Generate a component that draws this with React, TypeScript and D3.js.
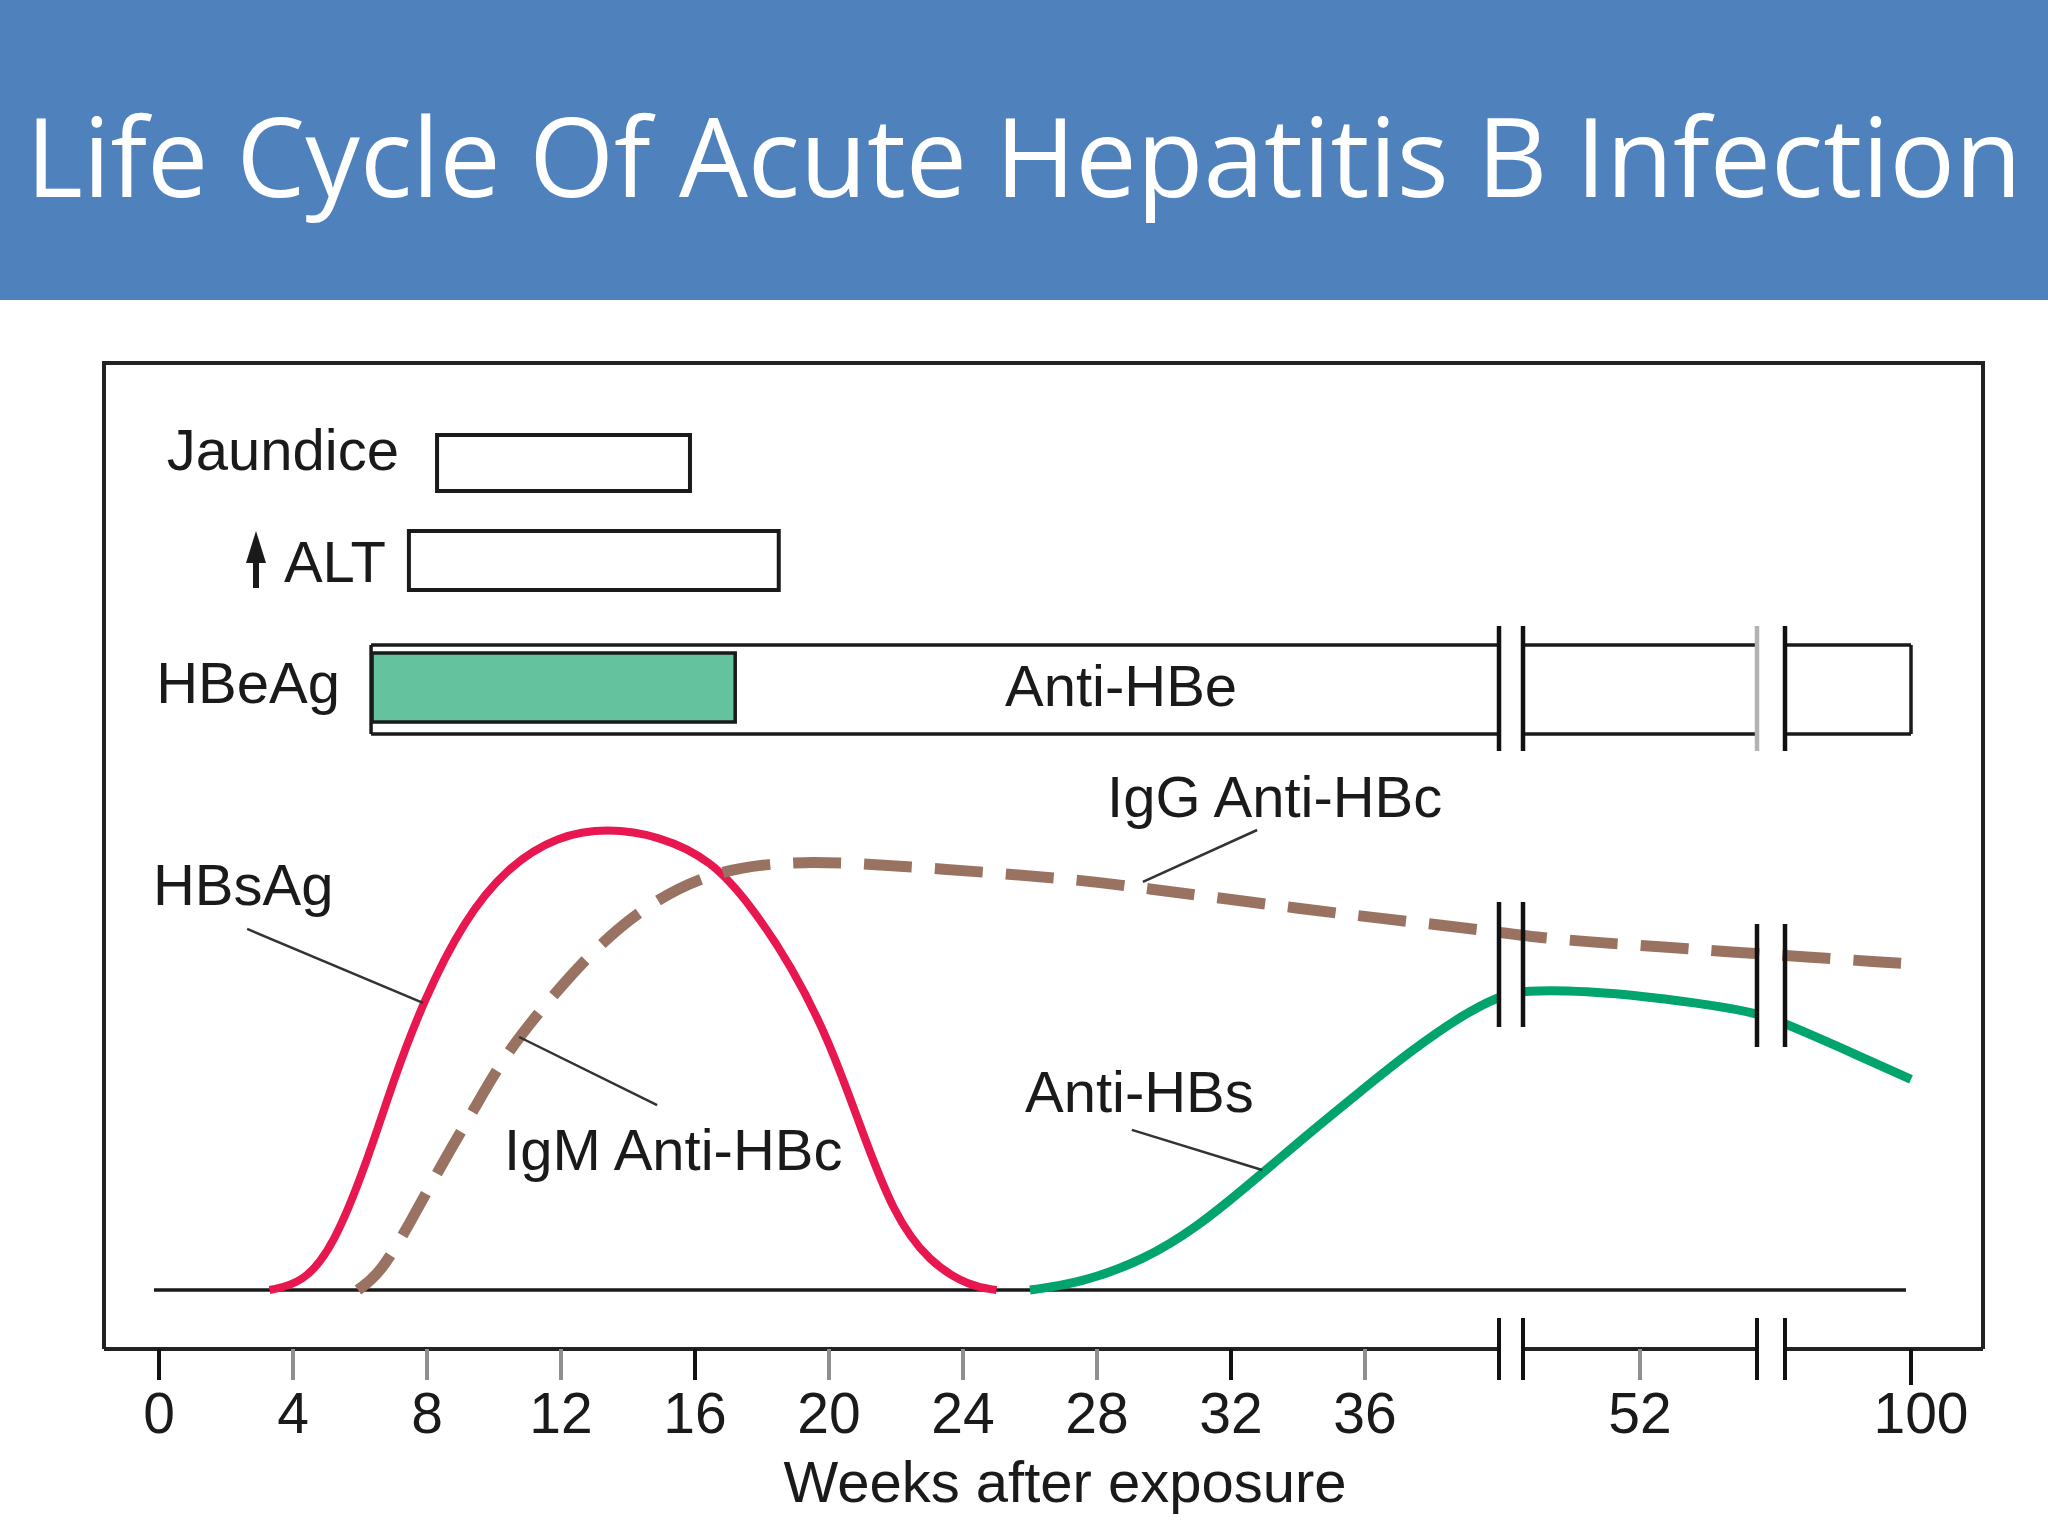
import React from 'react';
import * as d3 from 'd3';

const W = 2048;
const H = 1536;

// weeks after exposure
const weekTicks = [0, 4, 8, 12, 16, 20, 24, 28, 32, 36, 52, 100];
const darkTicks = [0, 16, 32, 100];
// axis breaks (start week, end week)
const axisBreaks: [number, number][] = [[40, 48], [56, 90]];

// curves: [week, relative level]
const hbsAg: [number, number][] = [
  [3.3, 0], [4.3, 1.5], [5.2, 9.3], [6.2, 27.6], [7.0, 45.7], [7.9, 63], [9.1, 80.4], [10.4, 92],
  [11.9, 98.8], [13.4, 100.4], [14.9, 98.8], [16.5, 93.5], [17.7, 83.3], [18.9, 70.2],
  [20.0, 54.3], [20.9, 36.3], [21.9, 16.7], [23.0, 5.9], [24.2, 0.8], [25.0, 0],
];
const antiHBc: [number, number][] = [
  [5.94, 0], [6.6, 3.5], [7.46, 14.1], [8.39, 26.7], [9.43, 39.6], [10.36, 51.5],
  [11.64, 63], [12.96, 73.9], [14.54, 83.7], [16.45, 90.9], [18.66, 93.2], [20.8, 92.8],
  [23.07, 91.7], [27.4, 89.3], [29.55, 87.2], [31.7, 85.2], [33.97, 83], [36.1, 81.1],
  [38.3, 79.3], [40, 77.8], [48, 77.0], [50.15, 75.7], [52.7, 74.6], [55.1, 73.5],
  [91.8, 72.4], [97.6, 71.3], [99.5, 71],
];
const antiHBs: [number, number][] = [
  [26, 0], [27.5, 1.5], [29.4, 6.5], [31, 13.7], [32.6, 23.3], [34.2, 33.3], [35.8, 42.8],
  [37.4, 52.2], [39, 60.2], [40, 63.8], [48, 65.2], [50.2, 65], [52.3, 63.7], [54.4, 62],
  [56, 60.2], [90, 58], [95.8, 51], [100, 45.8],
];

// top bars: [start week, end week]
const jaundice = [8.3, 15.85];
const altRise = [7.46, 18.5];
const hbeAg = [6.36, 17.2];
const antiHBe = [6.33, 100];

// annotation labels and their leader lines, in [week, level]
const labelNames = ['HBsAg', 'IgM Anti-HBc', 'IgG Anti-HBc', 'Anti-HBs'];
const labelAt: [number, number][] = [[-0.18, 83.7], [10.3, 26.1], [28.3, 102.8], [25.85, 38.7]];
const leaderFrom: [number, number][] = [[2.63, 78.5], [10.75, 55], [32.78, 100], [29.04, 34.8]];
const leaderTo: [number, number][] = [[7.88, 62.4], [14.87, 40.2], [29.37, 88.7], [32.93, 26.1]];

const x = d3.scaleLinear()
  .domain([0, 40, 48, 56, 90, 100])
  .range([159, 1499, 1523, 1757, 1785, 1911]);
const y = d3.scaleLinear().domain([0, 100]).range([1290, 830]);

const FONT = '"Liberation Sans", Arial, sans-serif';
const INK = '#1a1a1a';

const line = d3.line<[number, number]>()
  .x(d => x(d[0]))
  .y(d => y(d[1]))
  .curve(d3.curveBasis);

const box = { left: 104, right: 1983, top: 363, bottom: 1349 };

export default function App() {
  const b1 = axisBreaks.map(b => [x(b[0]), x(b[1])]);

  // bottom border of the frame, broken at the axis breaks
  const bottomSegs: [number, number][] = [
    [box.left, b1[0][0]], [b1[0][1], b1[1][0]], [b1[1][1], box.right],
  ];

  // HBeAg / anti-HBe bar
  const barTop = 645, barBot = 734;
  const barL = x(antiHBe[0]), barR = x(antiHBe[1]);
  const barSegs: [number, number][] = [
    [barL, b1[0][0]], [b1[0][1], b1[1][0]], [b1[1][1], barR],
  ];

  // curve break marks vertical extents
  const curveBreakY = [[902, 1027], [924, 1047]];

  return (
    <svg width={W} height={H} style={{ position: 'absolute', left: 0, top: 0, background: '#fff' }}>
      <rect x={0} y={0} width={W} height={H} fill="#fff" />
      {/* title banner */}
      <rect x={0} y={0} width={W} height={300} fill="#4F81BD" />
      <text x={1024} y={197} fill="#fff" fontFamily='"Open Sans", sans-serif' fontSize={109}
        textAnchor="middle">
        Life Cycle Of Acute Hepatitis B Infection
      </text>

      {/* frame */}
      <path d={`M${box.left},${box.bottom} V${box.top} H${box.right} V${box.bottom}`}
        fill="none" stroke="#222" strokeWidth={4} />
      {bottomSegs.map((s, i) => (
        <line key={i} x1={s[0]} x2={s[1]} y1={box.bottom} y2={box.bottom} stroke="#222" strokeWidth={4} />
      ))}
      {b1.map((b, i) => b.map((bx, j) => (
        <line key={`bb${i}${j}`} x1={bx} x2={bx} y1={1318} y2={1380} stroke="#111" strokeWidth={4} />
      )))}

      {/* ticks and labels */}
      {weekTicks.map(t => (
        <g key={t}>
          <line x1={x(t)} x2={x(t)} y1={box.bottom} y2={t === 100 ? 1385 : 1380}
            stroke={darkTicks.includes(t) ? '#111' : '#8f8f8f'} strokeWidth={4} />
          <text x={x(t) + (t === 100 ? 10 : 0)} y={1433} textAnchor="middle" fontFamily={FONT}
            fontSize={57} fill={INK}>{t}</text>
        </g>
      ))}
      <text x={1065} y={1502} textAnchor="middle" fontFamily={FONT} fontSize={58} fill={INK}>
        Weeks after exposure
      </text>

      {/* Jaundice row */}
      <text x={399} y={470} textAnchor="end" fontFamily={FONT} fontSize={58} fill={INK}>Jaundice</text>
      <rect x={x(jaundice[0])} y={435} width={x(jaundice[1]) - x(jaundice[0])} height={56}
        fill="#fff" stroke="#1a1a1a" strokeWidth={4} />

      {/* ALT row */}
      <line x1={256} x2={256} y1={588} y2={555} stroke="#1a1a1a" strokeWidth={6} />
      <path d="M246,563 L256,531 L266,563 Z" fill="#1a1a1a" />
      <text x={386} y={582} textAnchor="end" fontFamily={FONT} fontSize={58} fill={INK}>ALT</text>
      <rect x={x(altRise[0])} y={531} width={x(altRise[1]) - x(altRise[0])} height={59}
        fill="#fff" stroke="#1a1a1a" strokeWidth={4} />

      {/* HBeAg / anti-HBe row */}
      <text x={340} y={703} textAnchor="end" fontFamily={FONT} fontSize={58} fill={INK}>HBeAg</text>
      <line x1={barL} x2={barL} y1={barTop} y2={barBot} stroke="#1a1a1a" strokeWidth={3.5} />
      <line x1={barR} x2={barR} y1={barTop} y2={barBot} stroke="#1a1a1a" strokeWidth={3.5} />
      {barSegs.map((s, i) => (
        <g key={`hb${i}`}>
          <line x1={s[0]} x2={s[1]} y1={barTop} y2={barTop} stroke="#1a1a1a" strokeWidth={3.5} />
          <line x1={s[0]} x2={s[1]} y1={barBot} y2={barBot} stroke="#1a1a1a" strokeWidth={3.5} />
        </g>
      ))}
      <rect x={x(hbeAg[0])} y={653} width={x(hbeAg[1]) - x(hbeAg[0])} height={69}
        fill="#64C39E" stroke="#1a1a1a" strokeWidth={3.5} />
      <text x={1005} y={706} fontFamily={FONT} fontSize={58} fill={INK}>Anti-HBe</text>
      {b1.map((b, i) => b.map((bx, j) => (
        <line key={`eb${i}${j}`} x1={bx} x2={bx} y1={626} y2={751}
          stroke={i === 1 && j === 0 ? '#b3b3b3' : '#111'} strokeWidth={4.5} />
      )))}

      {/* baseline */}
      <line x1={x(-0.15)} x2={x(99.6)} y1={y(0)} y2={y(0)} stroke="#1a1a1a" strokeWidth={3.5} />

      {/* curves */}
      <path d={line(antiHBs) ?? ''} fill="none" stroke="#00A46C" strokeWidth={9} />
      {b1.map((b, i) => (
        <rect key={`wg${i}`} x={b[0] + 2} y={960} width={b[1] - b[0] - 4} height={85} fill="#fff" />
      ))}
      <path d={line(hbsAg) ?? ''} fill="none" stroke="#E8174F" strokeWidth={8} />
      <path d={line(antiHBc) ?? ''} fill="none" stroke="#9A7261" strokeWidth={11}
        strokeDasharray="48 23" />
      {b1.map((b, i) => b.map((bx, j) => (
        <line key={`cb${i}${j}`} x1={bx} x2={bx} y1={curveBreakY[i][0]} y2={curveBreakY[i][1]}
          stroke="#111" strokeWidth={4.5} />
      )))}

      {/* annotations */}
      {labelNames.map((n, i) => (
        <g key={n}>
          <line x1={x(leaderFrom[i][0])} y1={y(leaderFrom[i][1])} x2={x(leaderTo[i][0])} y2={y(leaderTo[i][1])}
            stroke="#333" strokeWidth={2.5} />
          <text x={x(labelAt[i][0])} y={y(labelAt[i][1])} fontFamily={FONT} fontSize={58} fill={INK}>{n}</text>
        </g>
      ))}
    </svg>
  );
}
